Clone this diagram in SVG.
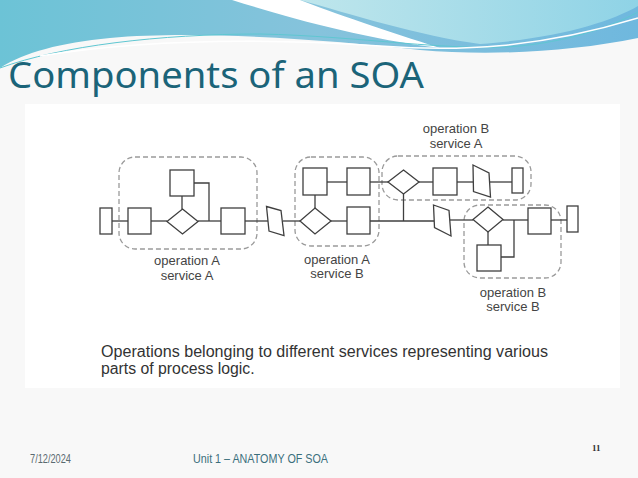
<svg xmlns="http://www.w3.org/2000/svg" width="638" height="478" viewBox="0 0 638 478">
<defs>
<linearGradient id="gBlue" x1="0" y1="0" x2="1" y2="0">
<stop offset="0" stop-color="#6cc3d6"/>
<stop offset="0.5" stop-color="#86c3dc"/>
<stop offset="1" stop-color="#6fb8de"/>
</linearGradient>
<linearGradient id="gLight" x1="0" y1="0" x2="1" y2="0">
<stop offset="0" stop-color="#bfe6ec"/>
<stop offset="1" stop-color="#8fd3e6"/>
</linearGradient>
<style>
.s{fill:#fff;stroke:#3f3f3f;stroke-width:1.3}
.c{fill:none;stroke:#3f3f3f;stroke-width:1.3}
.g{fill:none;stroke:#9a9a9a;stroke-width:1.3;stroke-dasharray:5 3}
.lb{font-family:"Liberation Sans",Arial,sans-serif;font-size:13px;fill:#444;text-anchor:middle}
.cap{font-family:"Liberation Sans",Arial,sans-serif;font-size:15.8px;fill:#333}
.ft{font-family:"Liberation Sans",Arial,sans-serif;font-size:12px}
</style>
</defs>
<rect width="638" height="478" fill="#f8f8f8"/>
<!-- header wave -->
<path d="M0,0 H638 V38 C570,52 490,56 420,50 C330,40 200,30 110,38 C60,43 25,52 0,68 Z" fill="url(#gBlue)"/>
<path d="M300,0 H638 V6 C610,22 560,38 480,44 C420,36 350,14 300,0 Z" fill="url(#gLight)"/>
<path d="M232,0 C290,18 360,38 440,48 C390,32 330,12 300,0 Z" fill="#ffffff"/>
<path d="M0,68 C60,46 160,34 260,34 C360,36 450,52 520,46 C580,40 620,22 638,12" fill="none" stroke="#5fc7d2" stroke-width="1"/>
<path d="M40,56 C140,40 260,38 380,46 C460,52 540,48 638,18" fill="none" stroke="#ffffff" stroke-width="1.5"/>
<text x="8" y="88" font-family="'Noto Sans','Open Sans',sans-serif" font-size="37" fill="#1b6479" textLength="416" lengthAdjust="spacingAndGlyphs">Components of an SOA</text>
<!-- image area -->
<rect x="25" y="104" width="595" height="284" fill="#ffffff"/>
<!-- service groups (dashed) -->
<g id="grp-opA-svcA"><rect class="g" x="119" y="157" width="138" height="92" rx="16"/></g>
<g id="grp-opA-svcB"><rect class="g" x="295" y="157" width="84" height="89" rx="16"/></g>
<g id="grp-opB-svcA"><rect class="g" x="382" y="156" width="149" height="44" rx="16"/></g>
<g id="grp-opB-svcB"><rect class="g" x="464" y="205" width="97" height="73" rx="16"/></g>
<!-- connectors -->
<g id="connectors">
<path class="c" d="M112,221 H128"/>
<path class="c" d="M151,221 H167"/>
<path class="c" d="M198,221 H221"/>
<path class="c" d="M194,183 H209 V221"/>
<path class="c" d="M182,209 V196"/>
<path class="c" d="M245,221 H268"/>
<path class="c" d="M283,221 H300"/>
<path class="c" d="M315,208 V195"/>
<path class="c" d="M327,182 H347"/>
<path class="c" d="M331,221 H347"/>
<path class="c" d="M370,221 H434"/>
<path class="c" d="M403.5,193 V221"/>
<path class="c" d="M370,182 H388"/>
<path class="c" d="M419,182 H433"/>
<path class="c" d="M457,182 H473"/>
<path class="c" d="M490,182 H512"/>
<path class="c" d="M450,220 H473"/>
<path class="c" d="M503,220 H528"/>
<path class="c" d="M514,220 V257 H500"/>
<path class="c" d="M488,232 V245"/>
<path class="c" d="M551,220 H567"/>
</g>
<!-- nodes -->
<g id="start"><rect class="s" x="100" y="208" width="12" height="26"/></g>
<g id="a1"><rect class="s" x="128" y="208" width="23" height="26"/></g>
<g id="d1"><polygon class="s" points="182.5,209 198,221.5 182.5,234 167,221.5"/></g>
<g id="a2"><rect class="s" x="170" y="170" width="24" height="26"/></g>
<g id="a3"><rect class="s" x="221" y="208" width="24" height="26"/></g>
<g id="t1"><polygon class="s" points="266.5,206.5 281,210.5 284,235.5 269,231"/></g>
<g id="d2"><polygon class="s" points="315,208 331,221 315,234 300,221"/></g>
<g id="b1"><rect class="s" x="303" y="168" width="24" height="27"/></g>
<g id="b2"><rect class="s" x="347" y="168" width="23" height="27"/></g>
<g id="b3"><rect class="s" x="347" y="207" width="23" height="27"/></g>
<g id="d3"><polygon class="s" points="403.5,170 419,182 403.5,194 388,182"/></g>
<g id="c1"><rect class="s" x="433" y="168" width="24" height="27"/></g>
<g id="t3"><polygon class="s" points="473,165 489,173 490.5,197 473.5,191.5"/></g>
<g id="e1"><rect class="s" x="512" y="168" width="11" height="25"/></g>
<g id="t2"><polygon class="s" points="433.5,205 449,210.5 451,236 434.5,227.5"/></g>
<g id="d4"><polygon class="s" points="488,207 503,219.5 488,232 473,219.5"/></g>
<g id="f1"><rect class="s" x="528" y="208" width="23" height="26"/></g>
<g id="f2"><rect class="s" x="477" y="245" width="24" height="26"/></g>
<g id="end"><rect class="s" x="567" y="206" width="11" height="26"/></g>
<!-- labels -->
<g id="lbl-opA-svcA"><text class="lb" x="187" y="265">operation A</text><text class="lb" x="187" y="280">service A</text></g>
<g id="lbl-opA-svcB"><text class="lb" x="337" y="264">operation A</text><text class="lb" x="337" y="278">service B</text></g>
<g id="lbl-opB-svcA"><text class="lb" x="456" y="133">operation B</text><text class="lb" x="456" y="148">service A</text></g>
<g id="lbl-opB-svcB"><text class="lb" x="513" y="297">operation B</text><text class="lb" x="513" y="311">service B</text></g>
<text class="cap" x="101" y="357" textLength="447" lengthAdjust="spacingAndGlyphs">Operations belonging to different services representing various</text>
<text class="cap" x="101" y="374">parts of process logic.</text>
<!-- footer -->
<text class="ft" x="30" y="463" fill="#5a6a70" textLength="41" lengthAdjust="spacingAndGlyphs">7/12/2024</text>
<text class="ft" x="193" y="463" fill="#3a6f7c" textLength="135" lengthAdjust="spacingAndGlyphs">Unit 1 – ANATOMY OF SOA</text>
<text x="592" y="451" font-family="'Liberation Serif',serif" font-size="9" font-weight="bold" fill="#333">11</text>
</svg>
